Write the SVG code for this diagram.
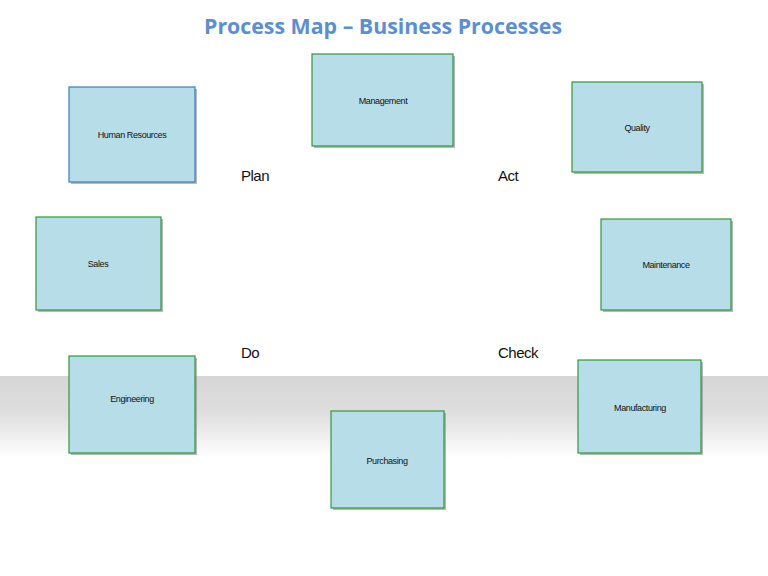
<svg xmlns="http://www.w3.org/2000/svg" width="768" height="576" viewBox="0 0 768 576">
<style>
.box{fill:#b7dde8;stroke:#2e9a3a;stroke-width:1.2}
.sh{fill:#8a8a8a;opacity:0.6}
.t{font-family:"Liberation Sans",Arial,sans-serif;font-size:9px;fill:#111;text-anchor:middle;letter-spacing:-0.4px}
.ph{font-family:"Liberation Sans",Arial,sans-serif;font-size:15px;fill:#111;letter-spacing:-0.5px}
</style>
<defs>
<linearGradient id="g" x1="0" y1="0" x2="0" y2="1">
<stop offset="0" stop-color="#d6d6d6"/><stop offset="0.45" stop-color="#dedede"/><stop offset="1" stop-color="#ffffff"/>
</linearGradient>
</defs>
<rect width="768" height="576" fill="#fff"/>
<rect x="0" y="376" width="768" height="82" fill="url(#g)"/>
<text x="383" y="34" font-family="Open Sans,Liberation Sans,sans-serif" font-weight="bold" font-size="21" fill="#5b8ed4" text-anchor="middle" textLength="358" lengthAdjust="spacingAndGlyphs">Process Map – Business Processes</text>
<g id="hr"><rect class="sh" x="71" y="89" width="126" height="95"/><rect class="box" x="69" y="87" width="126" height="95" style="stroke:#3a7cc0"/><text class="t" x="132" y="138">Human Resources</text></g>
<g id="management"><rect class="sh" x="314" y="56" width="141" height="92"/><rect class="box" x="312" y="54" width="141" height="92"/><text class="t" x="383" y="104">Management</text></g>
<g id="quality"><rect class="sh" x="574" y="84" width="130" height="90"/><rect class="box" x="572" y="82" width="130" height="90"/><text class="t" x="637" y="131">Quality</text></g>
<g id="sales"><rect class="sh" x="38" y="219" width="125" height="93"/><rect class="box" x="36" y="217" width="125" height="93"/><text class="t" x="98" y="267">Sales</text></g>
<g id="maintenance"><rect class="sh" x="603" y="221" width="130" height="91"/><rect class="box" x="601" y="219" width="130" height="91"/><text class="t" x="666" y="268">Maintenance</text></g>
<g id="engineering"><rect class="sh" x="71" y="358" width="126" height="97"/><rect class="box" x="69" y="356" width="126" height="97"/><text class="t" x="132" y="402">Engineering</text></g>
<g id="purchasing"><rect class="sh" x="333" y="413" width="113" height="97"/><rect class="box" x="331" y="411" width="113" height="97"/><text class="t" x="387" y="464">Purchasing</text></g>
<g id="manufacturing"><rect class="sh" x="580" y="362" width="123" height="93"/><rect class="box" x="578" y="360" width="123" height="93"/><text class="t" x="640" y="411">Manufacturing</text></g>
<g id="labels">
<text class="ph" x="241" y="181">Plan</text>
<text class="ph" x="498" y="181">Act</text>
<text class="ph" x="241" y="358">Do</text>
<text class="ph" x="498" y="358">Check</text>
</g>
<g id="connectors"/>
</svg>
